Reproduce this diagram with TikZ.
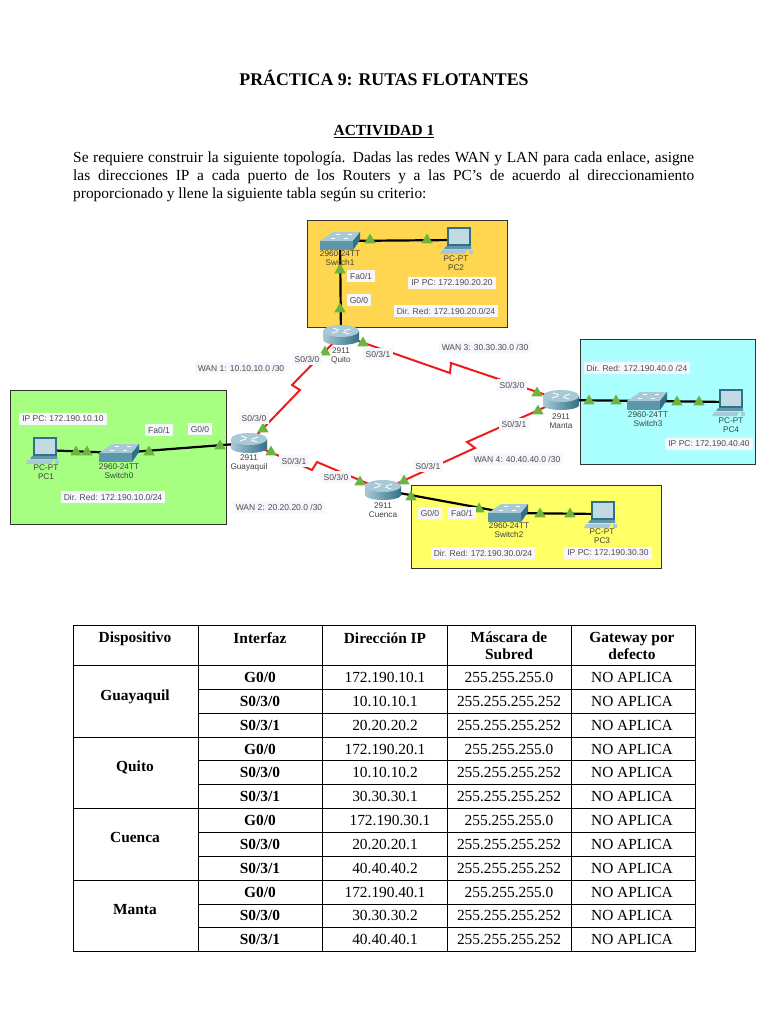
\documentclass[tikz,border=0pt]{standalone}
\usepackage{fontspec}
\setmainfont{Liberation Serif}
\newfontfamily\pkfont{Liberation Sans}
\usetikzlibrary{shapes.geometric}
\definecolor{wanred}{HTML}{EE1C1C}
\definecolor{portgreen}{HTML}{6DB33F}
\definecolor{tagbg}{HTML}{F6F6FC}
\definecolor{zoneorange}{HTML}{FFD650}
\definecolor{zonegreen}{HTML}{A6FF80}
\definecolor{zonecyan}{HTML}{AAFFFF}
\definecolor{zoneyellow}{HTML}{FFFF66}
\definecolor{iconlight}{HTML}{A8CAD6}
\definecolor{iconmid}{HTML}{5E97AC}
\definecolor{icondark}{HTML}{336F88}
% one row of the table: node names come from the row number
\newcommand{\tabrow}[6][385]{%
  \node[cellb] (ifz#2) at (260,#3) {#4};
  \node[cell] (ip#2) at (#1,#3) {#5};
  \node[cell] (mask#2) at (509,#3) {#6};
  \node[cell] (gw#2) at (632,#3) {NO APLICA};
}
\begin{document}
\begin{tikzpicture}[x=1pt, y=-1pt]
    \tikzset{
        zone/.style={draw=black!80, line width=1pt},
        lan/.style={draw=black, line width=2.2pt},
        wan/.style={draw=wanred, line width=2pt},
        port/.style={regular polygon, regular polygon sides=3, fill=portgreen, inner sep=0pt, minimum size=13pt},
        hub/.style={inner sep=0pt, minimum size=1pt},
        tag/.style={fill=tagbg, inner sep=3pt, text=black!70, font=\pkfont\fontsize{8.5}{9.5}\selectfont},
        devlbl/.style={align=center, inner sep=0pt, text=black!75, font=\pkfont\fontsize{8.2}{8.8}\selectfont},
        cell/.style={inner sep=0pt, text height=14pt, text depth=3pt, font=\fontsize{15.4}{17}\selectfont},
        cellb/.style={cell, font=\fontsize{15.4}{17}\selectfont\bfseries},
        headb/.style={inner sep=0pt, align=center, font=\fontsize{15.4}{17}\selectfont\bfseries},
        routerpic/.pic={
            \shade[left color=iconlight, right color=icondark] (-18,-4) rectangle (18,5);
            \shade[left color=iconlight, right color=icondark] (0,5) ellipse (18 and 5);
            \fill[iconlight] (0,-4) ellipse (18 and 6);
            \draw[white, line width=0.8pt] (-9,-2) -- (-3,-4) (3,-4) -- (9,-6) (-8,-7) -- (-2,-5) (2,-3) -- (8,-1);
        },
        switchpic/.pic={
            \fill[iconlight] (-20,0) -- (-7,-9) -- (20,-9) -- (13,0) -- cycle;
            \fill[iconmid] (-20,0) rectangle (13,9);
            \fill[icondark] (13,0) -- (20,-9) -- (20,-1) -- (13,9) -- cycle;
            \draw[white, line width=0.6pt] (-9,-3) -- (-5,-3) (4,-3) -- (8,-3) (-4,-7) -- (0,-7) (8,-7) -- (12,-7);
        },
        pcpic/.pic={
            \fill[icondark] (-9,-13) rectangle (15,6);
            \fill[iconlight!70!white] (-7,-11) rectangle (13,4);
            \fill[iconmid] (-10,6) -- (15,6) -- (15,9) -- (-12,9) -- cycle;
            \fill[iconlight] (-14,10) -- (11,10) -- (9,14) -- (-16,14) -- cycle;
            \fill[iconlight] (13,10) rectangle (17,14);
        }
    }
    \useasboundingbox (0,0) rectangle (768,1024);

    % Heading
    \node[inner sep=0pt, font=\fontsize{17.8}{20}\selectfont\bfseries] (title) at (384,78) {PRÁCTICA 9: RUTAS FLOTANTES};
    \node[inner sep=0pt, font=\fontsize{15.4}{17}\selectfont\bfseries] (act) at (384,132) {\underline{ACTIVIDAD 1}};
    \node[inner sep=0pt, anchor=north west, text width=621pt, align=justify, font=\fontsize{15.4}{17.6}\selectfont] (intro) at (73,152) {\hyphenpenalty=10000 Se requiere construir la siguiente topología. Dadas las redes WAN y LAN para cada enlace, asigne\linebreak las direcciones IP a cada puerto de los Routers y a las PC’s de acuerdo al direccionamiento\linebreak proporcionado y llene la siguiente tabla según su criterio:};

    % Coloured areas
    \fill[zoneorange, zone] (307,221) rectangle (507,327);
    \fill[zonegreen, zone] (10,390) rectangle (226,524);
    \fill[zonecyan, zone] (580,339) rectangle (755,464);
    \fill[zoneyellow, zone] (411,485) rectangle (661,568);

    % Devices
    \node[hub] (quito) at (341,335) {};
    \node[hub] (manta) at (561,400) {};
    \node[hub] (guayaquil) at (249,443) {};
    \node[hub] (cuenca) at (383,490) {};
    \node[hub] (switch0) at (119,453) {};
    \node[hub] (switch1) at (340,241) {};
    \node[hub] (switch2) at (508,513) {};
    \node[hub] (switch3) at (647,401) {};
    \node[hub] (pc1) at (42,450) {};
    \node[hub] (pc2) at (456,240) {};
    \node[hub] (pc3) at (600,514) {};
    \node[hub] (pc4) at (728,402) {};

    % LAN links
    \draw[lan] (pc1) -- (switch0);
    \draw[lan] (switch0) -- (guayaquil);
    \draw[lan] (switch1) -- (quito);
    \draw[lan] (switch1) -- (pc2);
    \draw[lan] (cuenca) -- (switch2);
    \draw[lan] (switch2) -- (pc3);
    \draw[lan] (manta) -- (switch3);
    \draw[lan] (switch3) -- (pc4);

    % WAN links
    \draw[wan] (guayaquil) -- (300,390) -- (292,385) -- (quito);
    \draw[wan] (guayaquil) -- (312,470) -- (317,462) -- (cuenca);
    \draw[wan] (quito) -- (450,373) -- (451,363) -- (manta);
    \draw[wan] (cuenca) -- (475,448) -- (467,442) -- (manta);

    % Icons
    \pic at (quito) {routerpic};
    \pic at (manta) {routerpic};
    \pic at (guayaquil) {routerpic};
    \pic at (cuenca) {routerpic};
    \pic at (switch0) {switchpic};
    \pic at (switch1) {switchpic};
    \pic at (switch2) {switchpic};
    \pic at (switch3) {switchpic};
    \pic at (pc1) {pcpic};
    \pic at (pc2) {pcpic};
    \pic at (pc3) {pcpic};
    \pic at (pc4) {pcpic};

    % Link lights
    \foreach \p [count=\i] in {(370,240),(427,240),(340,270),(340,309),(76,452),(87,452),(149,452),(220,446),
        (411,497),(479,509),(540,514),(570,514),(589,401),(616,401),(677,402),(699,402),
        (325,352),(363,343),(263,429),(271,452),(360,482),(404,481),(537,393),(538,411)}
        \node[port] (light\i) at \p {};

    % Device names
    \node[devlbl] (quitolbl) at (341,356) {2911\\Quito};
    \node[devlbl] (mantalbl) at (561,421) {2911\\Manta};
    \node[devlbl] (guayaquillbl) at (249,463) {2911\\Guayaquil};
    \node[devlbl] (cuencalbl) at (383,510) {2911\\Cuenca};
    \node[devlbl] (switch0lbl) at (119,471) {2960-24TT\\Switch0};
    \node[devlbl] (switch1lbl) at (340,258) {2960-24TT\\Switch1};
    \node[devlbl] (switch2lbl) at (509,530) {2960-24TT\\Switch2};
    \node[devlbl] (switch3lbl) at (648,419) {2960-24TT\\Switch3};
    \node[devlbl] (pc1lbl) at (46,472) {PC-PT\\PC1};
    \node[devlbl] (pc2lbl) at (456,263) {PC-PT\\PC2};
    \node[devlbl] (pc3lbl) at (602,536) {PC-PT\\PC3};
    \node[devlbl] (pc4lbl) at (731,425) {PC-PT\\PC4};

    % Port and network labels
    \node[tag] (qfa) at (361,276) {Fa0/1};
    \node[tag] (qg) at (359,300) {G0/0};
    \node[tag] (qs0) at (307,359) {S0/3/0};
    \node[tag] (qs1) at (378,354) {S0/3/1};
    \node[tag] (wan1) at (241,368) {WAN 1: 10.10.10.0 /30};
    \node[tag] (qip) at (452,283) {IP PC: 172.190.20.20};
    \node[tag] (qnet) at (446,311) {Dir. Red: 172.190.20.0/24};
    \node[tag] (wan3) at (485,347) {WAN 3: 30.30.30.0 /30};
    \node[tag] (mnet) at (637,368) {Dir. Red: 172.190.40.0 /24};
    \node[tag] (ms0) at (512,385) {S0/3/0};
    \node[tag] (ms1) at (514,424) {S0/3/1};
    \node[tag] (mip) at (709,444) {IP PC: 172.190.40.40};
    \node[tag] (wan4) at (517,459) {WAN 4: 40.40.40.0 /30};
    \node[tag] (cs1) at (428,466) {S0/3/1};
    \node[tag] (cg) at (430,513) {G0/0};
    \node[tag] (cfa) at (462,513) {Fa0/1};
    \node[tag] (cnet) at (483,553) {Dir. Red: 172.190.30.0/24};
    \node[tag] (cip) at (608,553) {IP PC: 172.190.30.30};
    \node[tag] (gip) at (63,419) {IP PC: 172.190.10.10};
    \node[tag] (gfa) at (159,430) {Fa0/1};
    \node[tag] (gg) at (200,429) {G0/0};
    \node[tag] (gs0) at (254,418) {S0/3/0};
    \node[tag] (gs1) at (294,461) {S0/3/1};
    \node[tag] (cs0) at (336,477) {S0/3/0};
    \node[tag] (gnet) at (113,497) {Dir. Red: 172.190.10.0/24};
    \node[tag] (wan2) at (279,507) {WAN 2: 20.20.20.0 /30};

    % Table grid
    \draw[line width=0.9pt] (73,625) rectangle (695,951);
    \foreach \x in {198,322,447,571}
        \draw[line width=0.9pt] (\x,625) -- (\x,951);
    \foreach \y in {665,737,808,880}
        \draw[line width=0.9pt] (73,\y) -- (695,\y);
    \foreach \y in {689,713,760,784,832,856,904,927}
        \draw[line width=0.9pt] (198,\y) -- (695,\y);

    % Table head
    \node[headb] (hdev) at (135,639) {Dispositivo};
    \node[headb] (hifz) at (260,638) {Interfaz};
    \node[headb] (hip) at (385,638) {Dirección IP};
    \node[headb] (hmask) at (509,646) {Máscara de\\Subred};
    \node[headb] (hgw) at (632,646) {Gateway por\\defecto};

    % Table body
    \node[cellb] (guayaquilrow) at (135,695) {Guayaquil};
    \node[cellb] (quitorow) at (135,766) {Quito};
    \node[cellb] (cuencarow) at (135,837) {Cuenca};
    \node[cellb] (mantarow) at (135,909) {Manta};
    \tabrow{1}{677}{G0/0}{172.190.10.1}{255.255.255.0}
    \tabrow{2}{701}{S0/3/0}{10.10.10.1}{255.255.255.252}
    \tabrow{3}{725}{S0/3/1}{20.20.20.2}{255.255.255.252}
    \tabrow{4}{749}{G0/0}{172.190.20.1}{255.255.255.0}
    \tabrow{5}{772}{S0/3/0}{10.10.10.2}{255.255.255.252}
    \tabrow{6}{796}{S0/3/1}{30.30.30.1}{255.255.255.252}
    \tabrow[390]{7}{820}{G0/0}{172.190.30.1}{255.255.255.0}
    \tabrow{8}{844}{S0/3/0}{20.20.20.1}{255.255.255.252}
    \tabrow{9}{868}{S0/3/1}{40.40.40.2}{255.255.255.252}
    \tabrow{10}{892}{G0/0}{172.190.40.1}{255.255.255.0}
    \tabrow{11}{915}{S0/3/0}{30.30.30.2}{255.255.255.252}
    \tabrow{12}{939}{S0/3/1}{40.40.40.1}{255.255.255.252}
\end{tikzpicture}
\end{document}
